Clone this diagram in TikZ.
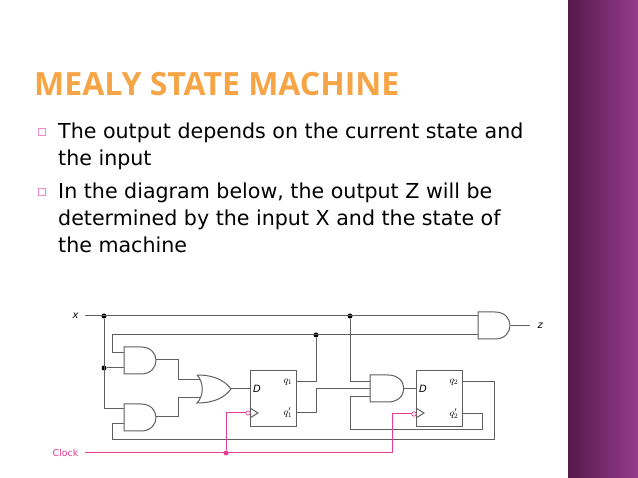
\documentclass[tikz,border=0pt]{standalone}
\usepackage{fontspec}
\setmainfont{DejaVu Sans}
\newfontfamily\titlefont{Open Sans}
\usetikzlibrary{calc}
\definecolor{wire}{RGB}{95,95,95}
\definecolor{clk}{RGB}{230,60,150}
\definecolor{ttl}{RGB}{245,165,70}
\definecolor{barA}{RGB}{85,25,75}
\definecolor{barB}{RGB}{150,60,140}
\tikzset{
  w/.style={draw=wire,line width=1pt},
  ck/.style={draw=clk,line width=1pt},
  gate/.style={draw=wire,line width=1pt,fill=white},
  dotw/.style={circle,fill=black,inner sep=0pt,minimum size=5pt},
  dotc/.style={circle,fill=clk,inner sep=0pt,minimum size=5pt},
  pin/.style={font=\itshape\fontsize{10}{10}\selectfont,inner sep=1pt},
  bul/.style={draw=clk!60,line width=0.4pt,minimum size=7pt,inner sep=0pt},
  body/.style={font=\fontsize{20.6}{24}\selectfont,anchor=base west,inner sep=0pt},
}
\begin{document}
\begin{tikzpicture}[x=1pt,y=-1pt]
\useasboundingbox (0,0) rectangle (638,478);
\fill[white] (0,0) rectangle (638,478);
\shade[left color=barA,right color=barB] (568,0) rectangle (638,478);
% title
\node[anchor=base west,inner sep=0pt,text=ttl,font=\titlefont\bfseries\fontsize{32}{32}\selectfont] (title) at (34,96) {MEALY STATE MACHINE};
% bullets
\node[bul] (b1) at (42,132) {};
\node[body] (t1) at (58,139) {The output depends on the current state and};
\node[body] (t2) at (58,166) {the input};
\node[bul] (b2) at (42,192) {};
\node[body] (t3) at (58,199) {In the diagram below, the output Z will be};
\node[body] (t4) at (58,226) {determined by the input X and the state of};
\node[body] (t5) at (58,253) {the machine};
% gates
\draw[gate] (124,347) -- (141,347) .. controls (161,347) and (161,374) .. (141,374) -- (124,374) -- cycle;
\draw[gate] (124,404) -- (141,404) .. controls (161,404) and (161,431) .. (141,431) -- (124,431) -- cycle;
\draw[gate] (370,375) -- (388,375) .. controls (409,375) and (409,402) .. (388,402) -- (370,402) -- cycle;
\draw[gate] (478,312) -- (495,312) .. controls (515,312) and (515,339) .. (495,339) -- (478,339) -- cycle;
\draw[gate] (197,375) .. controls (215,375) and (225,381) .. (231,389) .. controls (225,397) and (215,403) .. (197,403) .. controls (204,396) and (204,382) .. (197,375);
% flip-flops
\node[draw=wire,line width=1pt,minimum width=46pt,minimum height=56pt,anchor=north west,inner sep=0pt] (ff1) at (250,370) {};
\node[draw=wire,line width=1pt,minimum width=46pt,minimum height=56pt,anchor=north west,inner sep=0pt] (ff2) at (416,370) {};
\draw[w] (250,408) -- (258,413) -- (250,418);
\draw[w] (416,408) -- (424,413) -- (416,418);
\node[pin] at (257,389) {D};
\node[pin] at (288,382) {$q_1$};
\node[pin] at (288,413) {$q_1'$};
\node[pin] at (423,389) {D};
\node[pin] at (454,382) {$q_2$};
\node[pin] at (454,414) {$q_2'$};
% coordinates
\coordinate (xin) at (85,316);
\coordinate (zout) at (530,326);
\coordinate (ckin) at (85,453);
\node[dotw] (d1) at (104,316) {};
\node[dotw] (d2) at (104,368) {};
\node[dotw] (d3) at (350,316) {};
\node[dotw] (d4) at (316,335) {};
\node[dotc] (d5) at (226,453) {};
% labels
\node[font=\itshape\fontsize{10}{10}\selectfont,anchor=east] (xl) at (82,316) {x};
\node[font=\itshape\fontsize{10}{10}\selectfont,anchor=west] (zl) at (534,326) {z};
\node[font=\fontsize{9.5}{10}\selectfont,text=clk,anchor=east] (cl) at (82,453) {Clock};
% wires
\draw[w] (xin) -- (478,316);
\draw[w] (d1) -- (104,409) -- (124,409);
\draw[w] (d2) -- (124,368);
\draw[w] (478,335) -- (112,335) -- (112,353) -- (124,353);
\draw[w] (156,360) -- (178,360) -- (178,380) -- (200,380);
\draw[w] (156,417) -- (178,417) -- (178,398) -- (200,398);
\draw[w] (231,389) -- (250,389);
\draw[w] (296,382) -- (316,382) -- (d4);
\draw[w] (296,413) -- (316,413) -- (316,389) -- (370,389);
\draw[w] (d3) -- (350,382) -- (370,382);
\draw[w] (370,397) -- (350,397) -- (350,430) -- (482,430) -- (482,414) -- (462,414);
\draw[w] (462,382) -- (494,382) -- (494,440) -- (112,440) -- (112,424) -- (124,424);
\draw[w] (404,389) -- (416,389);
\draw[w] (511,326) -- (zout);
% clock
\draw[ck] (ckin) -- (392,453) -- (392,414) -- (412,414);
\draw[ck] (d5) -- (226,413) -- (246,413);
\draw[draw=clk,line width=0.7pt,fill=white] (248,413) circle (2.2pt);
\draw[draw=clk,line width=0.7pt,fill=white] (414,414) circle (2.2pt);
\end{tikzpicture}
\end{document}
